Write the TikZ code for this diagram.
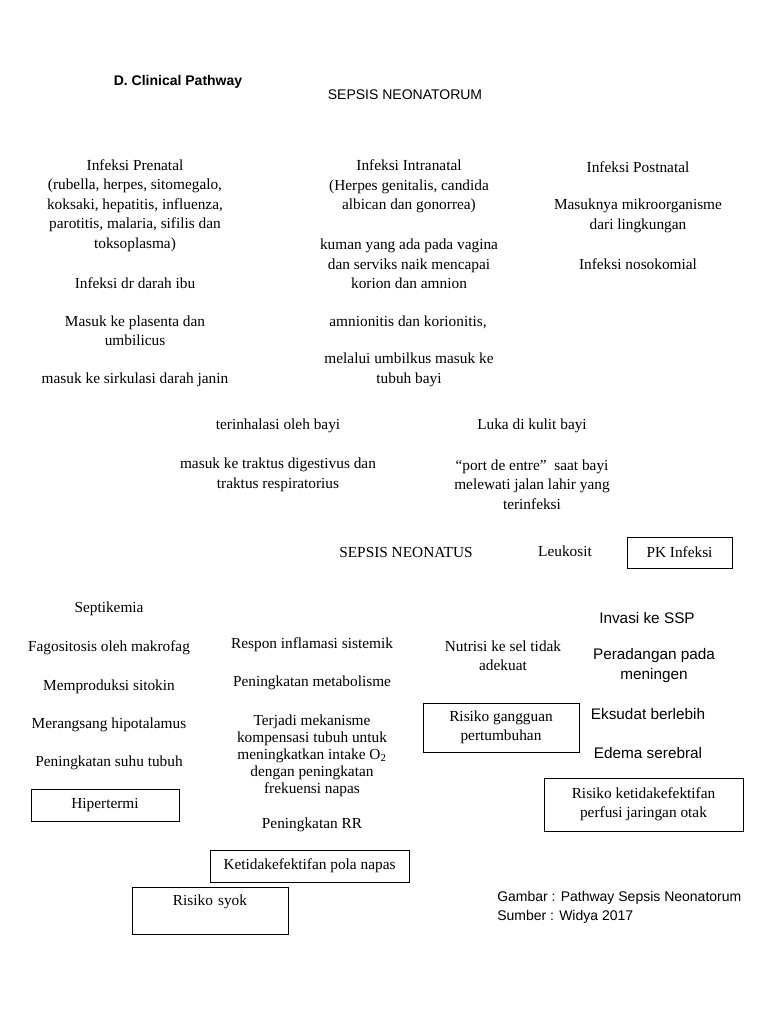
\documentclass[tikz,border=0pt]{standalone}
\usepackage{fontspec}
\setmainfont{Liberation Serif}
\newfontfamily\arialfont{Liberation Sans}
\usepackage{tikz}

\begin{document}
\begin{tikzpicture}[x=0.75pt,y=-0.75pt]
			\tikzstyle{plain_text}= [align=center,inner sep=0pt,yshift=-1.5pt,font=\fontsize{11.5}{14.6}\selectfont]
			\tikzstyle{tight_text}= [align=center,inner sep=0pt,yshift=-1pt,font=\fontsize{11.5}{12.75}\selectfont]
			\tikzstyle{sans_text}= [align=center,inner sep=0pt,yshift=-0.75pt,font=\arialfont\fontsize{11.5}{15}\selectfont]
			\tikzstyle{small_sans}= [inner sep=0pt,font=\arialfont\fontsize{10.5}{14.25}\selectfont]
			\tikzstyle{normal_box}= [draw,rectangle,line width=0.65pt,align=center,inner sep=0pt,font=\fontsize{11.5}{14.6}\selectfont]
			\path [use as bounding box,fill=white] (0,0) rectangle (768,1024);
			% heading
			\node [small_sans,font=\arialfont\bfseries\fontsize{10.5}{14.25}\selectfont] (title) at (178,82) {D. Clinical Pathway};
			\node [small_sans] (sepsis) at (405,95) {SEPSIS NEONATORUM};
			% prenatal
			\node [plain_text] (pre1) at (135,203.5) {Infeksi Prenatal\\(rubella, herpes, sitomegalo,\\koksaki, hepatitis, influenza,\\parotitis, malaria, sifilis dan\\toksoplasma)};
			\node [plain_text] (pre2) at (135,281) {Infeksi dr darah ibu};
			\node [plain_text] (pre3) at (135,329) {Masuk ke plasenta dan\\umbilicus};
			\node [plain_text] (pre4) at (135,378) {masuk ke sirkulasi darah janin};
			% intranatal
			\node [plain_text] (intra1) at (409,184.5) {Infeksi Intranatal\\(Herpes genitalis, candida\\albican dan gonorrea)};
			\node [plain_text] (intra2) at (409,262) {kuman yang ada pada vagina\\dan serviks naik mencapai\\korion dan amnion};
			\node [plain_text] (intra3) at (408,320) {amnionitis dan korionitis,};
			\node [plain_text] (intra4) at (409,368) {melalui umbilkus masuk ke\\tubuh bayi};
			% postnatal
			\node [plain_text] (post1) at (638,165) {Infeksi Postnatal};
			\node [plain_text] (post2) at (638,214) {Masuknya mikroorganisme\\dari lingkungan};
			\node [plain_text] (post3) at (638,262) {Infeksi nosokomial};
			% masuk ke bayi
			\node [plain_text] (inhal) at (278,424) {terinhalasi oleh bayi};
			\node [plain_text] (traktus) at (278,473) {masuk ke traktus digestivus dan\\traktus respiratorius};
			\node [plain_text] (luka) at (532,424) {Luka di kulit bayi};
			\node [plain_text] (port) at (532,482.5) {“port de entre”\ \ saat bayi\\melewati jalan lahir yang\\terinfeksi};
			\node [plain_text] (neonatus) at (406,550) {SEPSIS NEONATUS};
			\node [plain_text] (leukosit) at (565,549) {Leukosit};
			\node [normal_box,minimum width=78.75pt,minimum height=23.25pt] (pk) at (679.5,552.5) {PK Infeksi};
			% kiri
			\node [plain_text] (septi) at (109,607) {Septikemia};
			\node [plain_text] (fago) at (109,646) {Fagositosis oleh makrofag};
			\node [plain_text] (sitokin) at (109,685) {Memproduksi sitokin};
			\node [plain_text] (hipo) at (109,723) {Merangsang hipotalamus};
			\node [plain_text] (suhu) at (109,761) {Peningkatan suhu tubuh};
			\node [normal_box,minimum width=111pt,minimum height=24pt] (hiper) at (105,805) {Hipertermi};
			% tengah
			\node [plain_text] (respon) at (312,643) {Respon inflamasi sistemik};
			\node [plain_text] (metab) at (312,681) {Peningkatan metabolisme};
			\node [tight_text] (kompen) at (312,754) {Terjadi mekanisme\\kompensasi tubuh untuk\\meningkatkan intake O\textsubscript{2}\\dengan peningkatan\\frekuensi napas};
			\node [plain_text] (rr) at (312,823) {Peningkatan RR};
			\node [normal_box,minimum width=149.25pt,minimum height=24pt] (pola) at (309.5,866) {Ketidakefektifan pola napas};
			\node [normal_box,text width=117pt,text height=13.5pt,text depth=21.75pt] (syok) at (210,910.5) {Risiko syok};
			\node [plain_text] (nutrisi) at (503,654) {Nutrisi ke sel tidak\\adekuat};
			\node [normal_box,minimum width=117pt,minimum height=36.75pt] (tumbuh) at (501,727.5) {Risiko gangguan\\pertumbuhan};
			% kanan
			\node [sans_text] (ssp) at (647,617) {Invasi ke SSP};
			\node [sans_text] (radang) at (654,665) {Peradangan pada\\meningen};
			\node [sans_text] (eksudat) at (648,713) {Eksudat berlebih};
			\node [sans_text] (edema) at (648,752) {Edema serebral};
			\node [normal_box,minimum width=149.25pt,minimum height=39.75pt] (otak) at (643.5,804.5) {Risiko ketidakefektifan\\perfusi jaringan otak};
			% sumber
			\node [small_sans,anchor=west,align=left] (gambar) at (497,907.5) {Gambar : Pathway Sepsis Neonatorum\\Sumber : Widya 2017};
		\end{tikzpicture}
\end{document}
